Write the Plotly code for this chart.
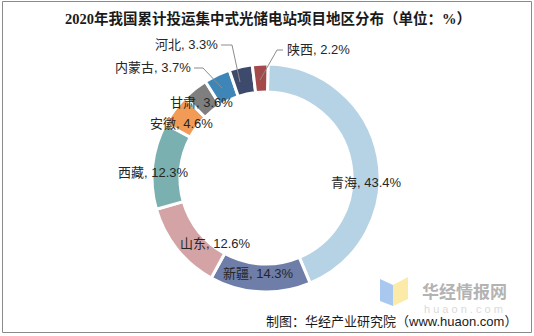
import plotly.graph_objects as go

# ---- data ----
regions = ["青海", "新疆", "山东", "西藏", "安徽", "甘肃", "内蒙古", "河北", "陕西"]
shares = [43.4, 14.3, 12.6, 12.3, 4.6, 3.6, 3.7, 3.3, 2.2]
colors = ["#b6d3e5", "#6e7ea8", "#d3a3a6", "#7bb0b1", "#f29b57",
          "#7f7f7f", "#3f86b8", "#3d4a6c", "#a44a4b"]
title_text = "2020年我国累计投运集中式光储电站项目地区分布（单位：%）"
source_text = "制图：华经产业研究院（www.huaon.com）"

W, H = 534, 336
CX, CY, R = 266, 178, 114


def px(x):
    return x / W


def py(y):
    return 1 - y / H


fig = go.Figure()
fig.add_trace(go.Pie(
    labels=regions, values=shares, sort=False, direction="clockwise",
    rotation=1, hole=0.755, textinfo="none", hoverinfo="label+percent",
    marker=dict(colors=colors, line=dict(color="white", width=3)),
    domain=dict(x=[px(CX - R), px(CX + R)], y=[py(CY + R), py(CY - R)]),
    showlegend=False,
))

# label placement (pixel centres) and leader lines
label_pos = {
    "青海": (366, 183), "新疆": (258, 273), "山东": (215, 243),
    "西藏": (153, 172), "安徽": (181, 123), "甘肃": (201, 102),
    "内蒙古": (153, 68), "河北": (186, 45), "陕西": (318, 49),
}
leaders = {
    "内蒙古": [(194, 68), (203, 68), (222, 88)],
    "河北": [(221, 45), (232, 45), (240, 82)],
    "陕西": [(283, 50), (277, 50), (260, 80)],
}

font_lbl = dict(family="Arial, Liberation Sans, Noto Sans CJK SC", size=13, color="#262626")
annotations = []
for name, val in zip(regions, shares):
    x, y = label_pos[name]
    annotations.append(dict(
        x=px(x), y=py(y), xref="paper", yref="paper",
        text=f"{name}, {val}%", showarrow=False, font=font_lbl,
        xanchor="center", yanchor="middle"))

shapes = []
for name, pts in leaders.items():
    path = "M " + " L ".join(f"{px(a)},{py(b)}" for a, b in pts)
    shapes.append(dict(type="path", xref="paper", yref="paper", path=path,
                       line=dict(color="#8c8c8c", width=1)))

# title
annotations.append(dict(
    x=px(268), y=py(18), xref="paper", yref="paper", text=f"<b>{title_text}</b>",
    showarrow=False, xanchor="center", yanchor="middle",
    font=dict(family="Liberation Serif, Noto Sans CJK SC", size=14.5, color="#1a1a1a")))

# watermark logo
shapes.append(dict(type="path", xref="paper", yref="paper",
                   path=f"M {px(380)},{py(279)} L {px(393)},{py(285)} L {px(393)},{py(306)} L {px(380)},{py(301)} Z",
                   fillcolor="#a9c8ef", line=dict(width=0)))
shapes.append(dict(type="path", xref="paper", yref="paper",
                   path=f"M {px(393)},{py(285)} L {px(408)},{py(277)} L {px(408)},{py(299)} L {px(393)},{py(306)} Z",
                   fillcolor="#fbeaa8", line=dict(width=0)))
annotations.append(dict(
    x=px(464), y=py(290), xref="paper", yref="paper", text="<b>华经情报网</b>",
    showarrow=False, xanchor="center", yanchor="middle",
    font=dict(family="Noto Sans CJK SC", size=17, color="#b3b3b3")))
annotations.append(dict(
    x=px(463), y=py(309), xref="paper", yref="paper", text="h u a o n . c o m",
    showarrow=False, xanchor="center", yanchor="middle",
    font=dict(family="Arial, Liberation Sans", size=11, color="#dadada")))

# source
annotations.append(dict(
    x=px(519), y=py(321), xref="paper", yref="paper", text=source_text,
    showarrow=False, xanchor="right", yanchor="middle",
    font=dict(family="Arial, Liberation Sans, Noto Sans CJK SC", size=13, color="#1a1a1a")))

# frame
shapes.append(dict(type="rect", xref="paper", yref="paper",
                   x0=px(2.5), x1=px(531.5), y0=py(332.5), y1=py(1.5),
                   line=dict(color="#8a8a8a", width=1)))

fig.update_layout(
    width=W, height=H, margin=dict(l=0, r=0, t=0, b=0),
    paper_bgcolor="white", plot_bgcolor="white",
    annotations=annotations, shapes=shapes,
)
fig.write_html("out.html")
